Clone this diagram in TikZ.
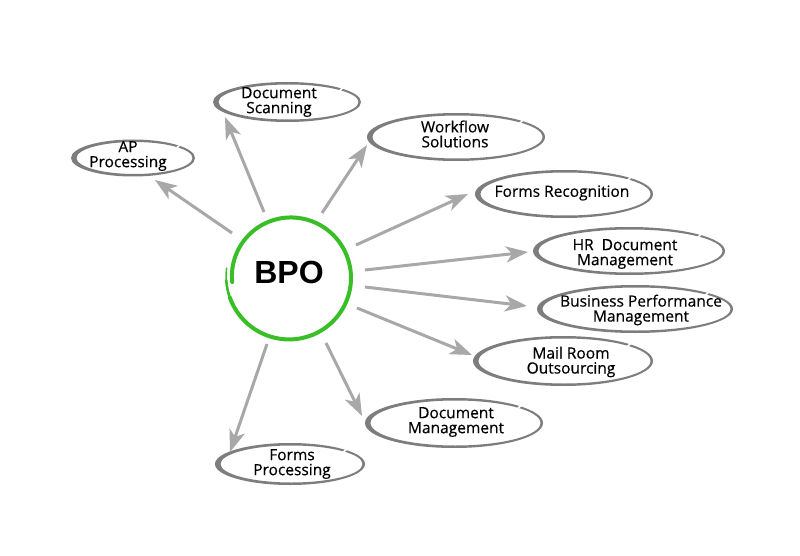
\documentclass[tikz,border=0pt]{standalone}
\usepackage{fontspec}
\setmainfont{Open Sans}
\newfontfamily\lblfont{Open Sans}[FakeBold=0.4]
\newfontfamily\bpofont{Liberation Sans}
\usetikzlibrary{arrows.meta}
\definecolor{bgreen}{RGB}{58,190,40}
\definecolor{ellgray}{RGB}{125,125,125}
\definecolor{arrgray}{RGB}{168,168,168}
\tikzset{
  lbl/.style={align=center, font=\lblfont\fontsize{15.5}{15}\selectfont, inner sep=0pt, text=black},
  arr/.style={draw=arrgray, line width=3pt, -{Stealth[length=22pt,width=16pt,inset=6pt]}},
  bpolbl/.style={font=\bpofont\bfseries\fontsize{32}{32}\selectfont, inner sep=0pt},
  greenring/.style={draw=bgreen, line cap=round},
  gapline/.style={draw=white, line width=1.6pt},
  declare function={sr(\t)=64-6*(188-\t)/373;}
}
% brush-like ellipse: cx, cy, rx, ry
\newcommand\brushell[4]{%
  \fill[ellgray, even odd rule] (#1,#2) ellipse [x radius=#3pt, y radius=#4pt]
    (#1+1.5,#2) ellipse [x radius=#3pt-4pt, y radius=#4pt-2.5pt];
  \draw[gapline] ({#1+(#3-8)*cos(42)},{#2-(#4-8)*sin(42)}) -- ({#1+(#3+3)*cos(42)},{#2-(#4+3)*sin(42)});
}
\begin{document}
\begin{tikzpicture}[x=1pt,y=-1pt]
\useasboundingbox (0,0) rectangle (800,556);
\fill[white] (0,0) rectangle (800,556);

% ellipses
\brushell{133}{158}{62}{18.5}
\brushell{287}{102}{74}{20}
\brushell{456}{137}{89}{24}
\brushell{564}{194}{89}{24}
\brushell{629}{251}{96}{24}
\brushell{635}{309}{98}{24}
\brushell{563}{361}{90}{25}
\brushell{454}{423}{89}{25}
\brushell{290}{464}{75}{21}

% labels
\node[lbl] (ap)   at (128,156) {AP\\Processing};
\node[lbl] (dsc)  at (279,102) {Document\\Scanning};
\node[lbl] (wf)   at (455,134) {Workflow\\Solutions};
\node[lbl] (frec) at (562,193) {Forms Recognition};
\node[lbl] (hr)   at (625,254) {HR~ Document\\Management};
\node[lbl] (bpm)  at (641,310) {Business Performance\\Management};
\node[lbl] (mail) at (571,362) {Mail Room\\Outsourcing};
\node[lbl] (dmg)  at (456,422) {Document\\Management};
\node[lbl] (fpr)  at (292,464) {Forms\\Processing};

% central ring
\draw[greenring, line width=1.5pt] plot[domain=188:176, samples=10, smooth] ({290+sr(\x)*cos(\x)},{277+sr(\x)*sin(\x)});
\draw[greenring, line width=2.6pt] plot[domain=177:160, samples=10, smooth] ({290+sr(\x)*cos(\x)},{277+sr(\x)*sin(\x)});
\draw[greenring, line width=4pt] plot[domain=161:-185, samples=150, smooth] ({290+sr(\x)*cos(\x)},{277+sr(\x)*sin(\x)});
\node[bpolbl] (bpo) at (289,272) {BPO};

% arrow anchors
\coordinate (s-ap)   at (232,233); \coordinate (e-ap)   at (155,180);
\coordinate (s-dsc)  at (264,212); \coordinate (e-dsc)  at (225,117);
\coordinate (s-wf)   at (322,213); \coordinate (e-wf)   at (367,145);
\coordinate (s-frec) at (356,245); \coordinate (e-frec) at (468,194);
\coordinate (s-hr)   at (365,270); \coordinate (e-hr)   at (528,252);
\coordinate (s-bpm)  at (365,287); \coordinate (e-bpm)  at (527,306);
\coordinate (s-mail) at (357,308); \coordinate (e-mail) at (472,355);
\coordinate (s-dmg)  at (326,343); \coordinate (e-dmg)  at (362,416);
\coordinate (s-fpr)  at (267,344); \coordinate (e-fpr)  at (230,452);

\foreach \n in {ap,dsc,wf,frec,hr,bpm,mail,dmg,fpr}
  \draw[arr] (s-\n) -- (e-\n);
\end{tikzpicture}
\end{document}
